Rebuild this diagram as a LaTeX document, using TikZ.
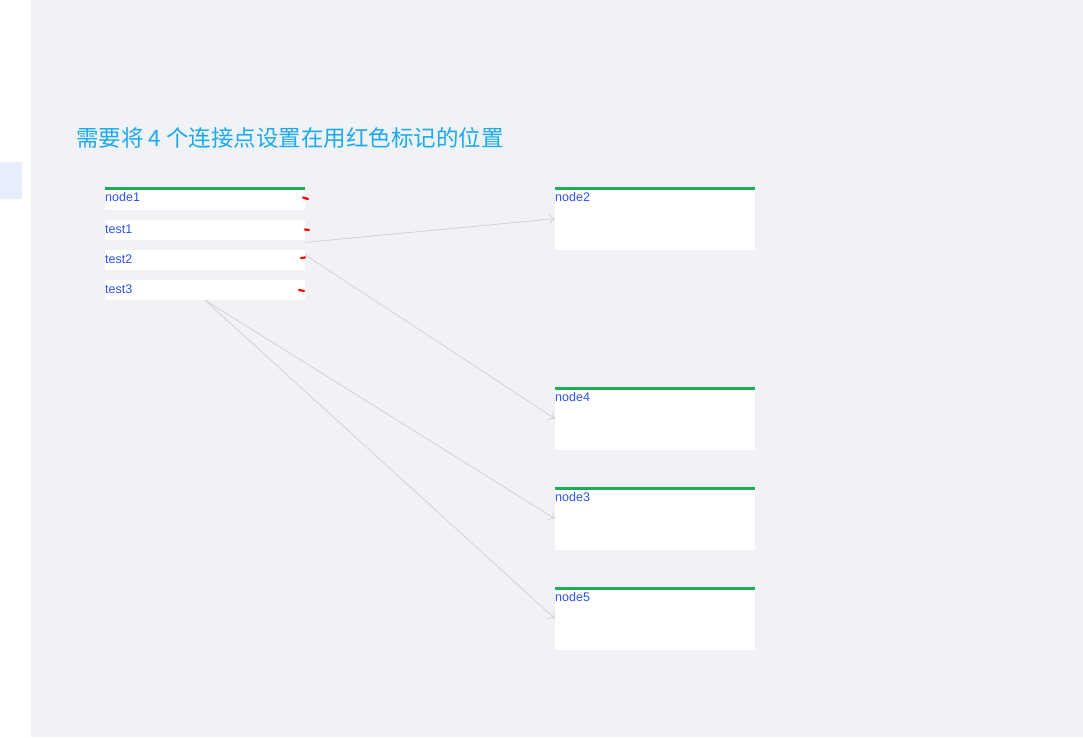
\documentclass[tikz,border=0pt]{standalone}
\usepackage{fontspec}
\setmainfont{Liberation Sans}
\newfontfamily\cjk{Noto Sans CJK SC}
\usetikzlibrary{calc, arrows.meta}
\definecolor{pagebg}{HTML}{F0F2F5}
\definecolor{tabbg}{HTML}{E6EEFB}
\definecolor{titleblue}{HTML}{1AABEF}
\definecolor{textblue}{HTML}{2F54EB}
\definecolor{barg}{HTML}{1AAD55}
\definecolor{edgegray}{HTML}{D3D3D3}
\begin{document}
\begin{tikzpicture}[x = 1pt, y = -1pt,
    rowbox/.style = {draw = none, fill = white, anchor = north west, inner sep = 0pt,
                     minimum width = 200pt, minimum height = 20pt},
    cardbox/.style = {rowbox, minimum height = 63pt},
    topbar/.style = {barg, line width = 3pt},
    lbl/.style = {anchor = north west, inner sep = 0pt, text = textblue,
                  font = \fontsize{12.5}{14}\selectfont, yshift = -5pt},
    link/.style = {edgegray, line width = 0.8pt, -{To[length = 6pt, width = 11pt]}},
    redmark/.style = {red, line width = 2.2pt, line cap = round}]
  \useasboundingbox (0, 0) rectangle (1083, 737);
  \fill [white] (0, 0) rectangle (1083, 737);
  \fill [pagebg] (31, 0) rectangle (1083, 737);
  \fill [tabbg, rounded corners = 2pt] (-3, 162) rectangle (22, 199);
  \node [anchor = base west, inner sep = 0pt, text = titleblue,
         font = \cjk\fontsize{22.5}{26}\selectfont] (title) at (76, 146)
    {需要将 4 个连接点设置在用红色标记的位置};
  % left list
  \node [rowbox, minimum height = 23pt] (node1) at (105, 187) {};
  \node [rowbox] (test1) at (105, 220) {};
  \node [rowbox] (test2) at (105, 250) {};
  \node [rowbox] (test3) at (105, 280) {};
  \draw [topbar] (105, 188.5) -- (305, 188.5);
  \node [lbl] at (node1.north west) {node1};
  \node [lbl] at (test1.north west) {test1};
  \node [lbl] at (test2.north west) {test2};
  \node [lbl] at (test3.north west) {test3};
  % right cards
  \foreach \name/\y in {node2/187, node4/387, node3/487, node5/587}{
    \node [cardbox] (\name) at (555, \y) {};
    \draw [topbar] (555, \y + 1.5) -- (755, \y + 1.5);
    \node [lbl] at (\name.north west) {\name};
  }
  % links
  \draw [link] ($(test1.south east) + (0, 2)$) -- (node2.west);
  \draw [link] ($(test2.north east) + (0, 5)$) -- (node4.west);
  \draw [link] (test3.south) -- (node3.west);
  \draw [link] (test3.south) -- (node5.west);
  % red marks
  \draw [redmark] (303, 197.5) -- (308, 199);
  \draw [redmark] (305, 229.5) -- (309, 230);
  \draw [redmark] (301, 258) -- (305, 257.5);
  \draw [redmark] (299, 290) -- (304, 291);
\end{tikzpicture}
\end{document}
